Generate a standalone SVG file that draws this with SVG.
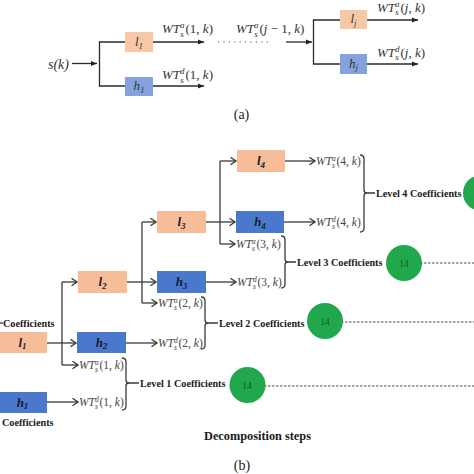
<svg xmlns="http://www.w3.org/2000/svg" width="474" height="474" viewBox="0 0 474 474">
<defs>
<style>
.ln{stroke:#2a2a2a;stroke-width:1.3;fill:none}
.lb{stroke:#3a3a3a;stroke-width:1.3;fill:none}
.pa{fill:#F8C8A6}
.ba{fill:#85A2DC}
.pb{fill:#F6BD98}
.bb{fill:#4A78CC}
.ma{font-family:"Liberation Serif",serif;font-style:italic;font-size:13px;fill:#333}
.wb{font-family:"Liberation Serif",serif;font-style:italic;font-size:11.5px;fill:#444}
.up{font-style:normal}
.sa{font-size:9px}
.sb{font-size:7.5px}
.bl{font-family:"Liberation Serif",serif;font-style:italic;font-weight:bold;font-size:13px;fill:#1c1c30;text-anchor:middle}
.lv{font-family:"Liberation Serif",serif;font-weight:bold;font-size:10.2px;fill:#1a1a1a}
.cap{font-family:"Liberation Serif",serif;font-size:14px;fill:#222;text-anchor:middle}
.ds{stroke:#333;stroke-width:0.9;stroke-dasharray:2.5 1.5;fill:none}
.gc{fill:#22A84C}
.n14{font-family:"Liberation Serif",serif;font-size:9.5px;fill:#145a2a;text-anchor:middle}
</style>
<marker id="fa" markerWidth="7" markerHeight="6" refX="6" refY="3" orient="auto" markerUnits="userSpaceOnUse"><path d="M0,0.6 L6,3 L0,5.4 z" fill="#222"/></marker>
<marker id="oa" markerWidth="9" markerHeight="10" refX="7" refY="4.5" orient="auto" markerUnits="userSpaceOnUse"><path d="M1.5,0.8 L7,4.5 L1.5,8.2" fill="none" stroke="#333" stroke-width="1.3"/></marker>
</defs>

<!-- ===== Part (a) ===== -->
<g id="connectors-a">
<line class="ln" x1="72" y1="63.5" x2="97" y2="63.5" marker-end="url(#fa)"/>
<path class="ln" d="M125,42 H99.5 V86 H125"/>
<line class="ln" x1="153" y1="42" x2="204" y2="42" marker-end="url(#fa)"/>
<line class="ln" x1="153" y1="86" x2="204" y2="86" marker-end="url(#fa)"/>
<line x1="218" y1="42" x2="270" y2="42" stroke="#555" stroke-width="1.2" stroke-dasharray="1.2 4.2"/>
<line class="ln" x1="286" y1="42" x2="312" y2="42" marker-end="url(#fa)"/>
<path class="ln" d="M340,20 H313.5 V64 H340"/>
<line class="ln" x1="367" y1="20" x2="418" y2="20" marker-end="url(#fa)"/>
<line class="ln" x1="367" y1="64" x2="418" y2="64" marker-end="url(#fa)"/>
</g>
<g id="sk"><text class="ma" x="48" y="68.5" style="font-size:14px">s(k)</text></g>
<g id="a-l1"><rect class="pa" x="125" y="32" width="28" height="20"/><text class="ma" x="139" y="46" text-anchor="middle">l<tspan class="sa" dy="2.5">1</tspan></text></g>
<g id="a-h1"><rect class="ba" x="125" y="77" width="28" height="19"/><text class="ma" x="139" y="90" text-anchor="middle">h<tspan class="sa" dy="2.5">1</tspan></text></g>
<g id="a-lj"><rect class="pa" x="340" y="10" width="27" height="19"/><text class="ma" x="353.5" y="23" text-anchor="middle">l<tspan class="sa" dy="2.5">j</tspan></text></g>
<g id="a-hj"><rect class="ba" x="340" y="54" width="27" height="20"/><text class="ma" x="353.5" y="67.5" text-anchor="middle">h<tspan class="sa" dy="2.5">j</tspan></text></g>
<g id="a-wt1a"><text class="ma" x="162" y="33">WT<tspan class="sa" dy="-5">a</tspan><tspan class="sa" x="180.2" dy="8.5">s</tspan><tspan class="up" x="185.5" dy="-3.5">(1, </tspan>k<tspan class="up">)</tspan></text></g>
<g id="a-wt1d"><text class="ma" x="162" y="79">WT<tspan class="sa" dy="-5">d</tspan><tspan class="sa" x="180.2" dy="8.5">s</tspan><tspan class="up" x="185.5" dy="-3.5">(1, </tspan>k<tspan class="up">)</tspan></text></g>
<g id="a-wtj1"><text class="ma" x="236" y="33">WT<tspan class="sa" dy="-5">a</tspan><tspan class="sa" x="254.2" dy="8.5">s</tspan><tspan class="up" x="259.5" dy="-3.5">(</tspan>j <tspan class="up">− 1, </tspan>k<tspan class="up">)</tspan></text></g>
<g id="a-wtja"><text class="ma" x="377" y="11.5">WT<tspan class="sa" dy="-4.5">a</tspan><tspan class="sa" x="395.2" dy="8">s</tspan><tspan class="up" x="400.5" dy="-3.5">(</tspan>j<tspan class="up">, </tspan>k<tspan class="up">)</tspan></text></g>
<g id="a-wtjd"><text class="ma" x="377" y="56.5">WT<tspan class="sa" dy="-5">d</tspan><tspan class="sa" x="395.2" dy="8.5">s</tspan><tspan class="up" x="400.5" dy="-3.5">(</tspan>j<tspan class="up">, </tspan>k<tspan class="up">)</tspan></text></g>
<text class="cap" x="241.5" y="119">(a)</text>

<!-- ===== Part (b) ===== -->
<g id="connectors-b">
<line class="lb" x1="285" y1="161" x2="315" y2="161" marker-end="url(#oa)"/>
<line class="lb" x1="284" y1="222" x2="315" y2="222" marker-end="url(#oa)"/>
<line class="lb" x1="206" y1="222" x2="235" y2="222" marker-end="url(#oa)"/>
<line class="lb" x1="220" y1="161" x2="220" y2="244"/>
<line class="lb" x1="220" y1="161" x2="236" y2="161" marker-end="url(#oa)"/>
<line class="lb" x1="220" y1="244" x2="235" y2="244" marker-end="url(#oa)"/>
<line class="lb" x1="206" y1="282" x2="236" y2="282" marker-end="url(#oa)"/>
<line class="lb" x1="127" y1="282" x2="156" y2="282" marker-end="url(#oa)"/>
<line class="lb" x1="142" y1="222" x2="142" y2="303"/>
<line class="lb" x1="142" y1="222" x2="156" y2="222" marker-end="url(#oa)"/>
<line class="lb" x1="142" y1="303" x2="157" y2="303" marker-end="url(#oa)"/>
<line class="lb" x1="47" y1="343" x2="76" y2="343" marker-end="url(#oa)"/>
<line class="lb" x1="126" y1="343" x2="157" y2="343" marker-end="url(#oa)"/>
<line class="lb" x1="62" y1="282" x2="62" y2="365"/>
<line class="lb" x1="62" y1="282" x2="77" y2="282" marker-end="url(#oa)"/>
<line class="lb" x1="62" y1="365" x2="78" y2="365" marker-end="url(#oa)"/>
<line class="lb" x1="47" y1="402" x2="78" y2="402" marker-end="url(#oa)"/>
<!-- braces -->
<path class="lb" stroke-width="1.1" d="M360,155 Q364,155 364,159 V190 Q364,193 367,193 Q364,193 364,196 V228 Q364,232 360,232 M367,193 H375"/>
<path class="lb" stroke-width="1.1" d="M281,236 Q285,236 285,240 V259 Q285,262 288,262 Q285,262 285,265 V284 Q285,288 281,288 M288,262 H296"/>
<path class="lb" stroke-width="1.1" d="M201,297 Q205,297 205,301 V320 Q205,323 208,323 Q205,323 205,326 V345 Q205,349 201,349 M208,323 H218"/>
<path class="lb" stroke-width="1.1" d="M122,358 Q126,358 126,362 V380 Q126,383 129,383 Q126,383 126,386 V406 Q126,410 122,410 M129,383 H139"/>
<line class="lb" stroke-width="1.1" x1="0" y1="323" x2="3" y2="323"/>
<!-- dashed leaders -->
<line class="ds" x1="412" y1="263" x2="474" y2="263"/>
<line class="ds" x1="333" y1="322" x2="474" y2="322"/>
<line class="ds" x1="256" y1="386" x2="474" y2="386"/>
</g>

<g id="b-l4"><rect class="pb" x="237" y="150" width="48" height="22"/><text class="bl" x="261" y="165">l<tspan class="sa" dy="2.5">4</tspan></text></g>
<g id="b-h4"><rect class="bb" x="236" y="211" width="48" height="22"/><text class="bl" x="260" y="226">h<tspan class="sa" dy="2.5">4</tspan></text></g>
<g id="b-l3"><rect class="pb" x="157" y="211" width="49" height="22"/><text class="bl" x="181.5" y="226">l<tspan class="sa" dy="2.5">3</tspan></text></g>
<g id="b-h3"><rect class="bb" x="157" y="271" width="49" height="22"/><text class="bl" x="181.5" y="286">h<tspan class="sa" dy="2.5">3</tspan></text></g>
<g id="b-l2"><rect class="pb" x="78" y="271" width="49" height="22"/><text class="bl" x="102.5" y="286">l<tspan class="sa" dy="2.5">2</tspan></text></g>
<g id="b-h2"><rect class="bb" x="77" y="332" width="49" height="21"/><text class="bl" x="101.5" y="346.5">h<tspan class="sa" dy="2.5">2</tspan></text></g>
<g id="b-l1"><rect class="pb" x="-2" y="332" width="49" height="21"/><text class="bl" x="22.5" y="346.5">l<tspan class="sa" dy="2.5">1</tspan></text></g>
<g id="b-h1"><rect class="bb" x="-2" y="392" width="49" height="21"/><text class="bl" x="22.5" y="406.5">h<tspan class="sa" dy="2.5">1</tspan></text></g>

<g id="b-wt4a"><text class="wb" x="316" y="165">WT<tspan class="sb" dy="-4.5">a</tspan><tspan class="sb" x="332" dy="7.5">s</tspan><tspan class="up" x="336.5" dy="-3">(4, </tspan>k<tspan class="up">)</tspan></text></g>
<g id="b-wt4d"><text class="wb" x="316" y="226">WT<tspan class="sb" dy="-4.5">d</tspan><tspan class="sb" x="332" dy="7.5">s</tspan><tspan class="up" x="336.5" dy="-3">(4, </tspan>k<tspan class="up">)</tspan></text></g>
<g id="b-wt3a"><text class="wb" x="236" y="248">WT<tspan class="sb" dy="-4.5">a</tspan><tspan class="sb" x="252" dy="7.5">s</tspan><tspan class="up" x="256.5" dy="-3">(3, </tspan>k<tspan class="up">)</tspan></text></g>
<g id="b-wt3d"><text class="wb" x="237" y="286">WT<tspan class="sb" dy="-4.5">d</tspan><tspan class="sb" x="253" dy="7.5">s</tspan><tspan class="up" x="257.5" dy="-3">(3, </tspan>k<tspan class="up">)</tspan></text></g>
<g id="b-wt2a"><text class="wb" x="158" y="307">WT<tspan class="sb" dy="-4.5">a</tspan><tspan class="sb" x="174" dy="7.5">s</tspan><tspan class="up" x="178.5" dy="-3">(2, </tspan>k<tspan class="up">)</tspan></text></g>
<g id="b-wt2d"><text class="wb" x="158" y="347">WT<tspan class="sb" dy="-4.5">d</tspan><tspan class="sb" x="174" dy="7.5">s</tspan><tspan class="up" x="178.5" dy="-3">(2, </tspan>k<tspan class="up">)</tspan></text></g>
<g id="b-wt1a"><text class="wb" x="79" y="369">WT<tspan class="sb" dy="-4.5">a</tspan><tspan class="sb" x="95" dy="7.5">s</tspan><tspan class="up" x="99.5" dy="-3">(1, </tspan>k<tspan class="up">)</tspan></text></g>
<g id="b-wt1d"><text class="wb" x="79" y="406">WT<tspan class="sb" dy="-4.5">d</tspan><tspan class="sb" x="95" dy="7.5">s</tspan><tspan class="up" x="99.5" dy="-3">(1, </tspan>k<tspan class="up">)</tspan></text></g>

<g id="level4"><text class="lv" x="376" y="196.5">Level 4 Coefficients</text><circle class="gc" cx="481" cy="193" r="18"/></g>
<g id="level3"><text class="lv" x="297" y="265.5">Level 3 Coefficients</text><circle class="gc" cx="404" cy="263" r="18"/><text class="n14" x="404" y="266.5">14</text></g>
<g id="level2"><text class="lv" x="219" y="326.5">Level 2 Coefficients</text><circle class="gc" cx="325" cy="321" r="18"/><text class="n14" x="325" y="325">14</text></g>
<g id="level1"><text class="lv" x="140" y="386.5">Level 1 Coefficients</text><circle class="gc" cx="247.5" cy="385" r="18"/><text class="n14" x="247" y="389">14</text></g>
<g id="coef-top"><text class="lv" x="3" y="326.5">Coefficients</text></g>
<g id="coef-bot"><text class="lv" x="2" y="425.5">Coefficients</text></g>
<text class="lv" x="257.5" y="439.5" style="font-size:12.3px" text-anchor="middle">Decomposition steps</text>
<text class="cap" x="242" y="470">(b)</text>
</svg>
